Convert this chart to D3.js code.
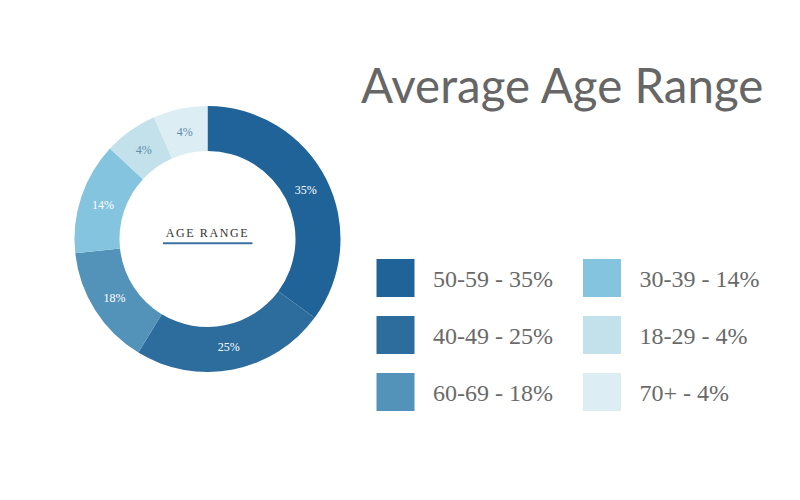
<!DOCTYPE html>
<html>
<head>
<meta charset="utf-8">
<script src="https://cdn.jsdelivr.net/npm/d3@7"></script>
<style>
  html, body { margin: 0; padding: 0; background: #ffffff; }
  svg { display: block; }
</style>
</head>
<body>
<svg id="chart" width="800" height="500"></svg>
<script>
// ---- data ----
const categories = ["50-59", "40-49", "60-69", "30-39", "18-29", "70+"];
const percents   = [35, 25, 18, 14, 4, 4];
// angular share of each slice as it is drawn in the picture
const arcShares  = [35.1, 23.6, 14.6, 13.6, 6.5, 6.6];
const palette    = ["#1f6399", "#2c6d9e", "#5393b9", "#85c4de", "#c3e1ea", "#dcedf3"];
const titleText  = "Average Age Range";
const centerText = "AGE RANGE";

const data = categories.map((c, i) => ({ cat: c, pct: percents[i], share: arcShares[i] }));

const svg = d3.select("#chart");
const W = 800, H = 500;
svg.append("rect").attr("width", W).attr("height", H).attr("fill", "#ffffff");

const color = d3.scaleOrdinal().domain(categories).range(palette);

// ---- donut ----
const cx = 207.5, cy = 239, R = 133, r = 88;
const pie = d3.pie().sort(null).value(d => d.share).startAngle(0).endAngle(2 * Math.PI);
const arc = d3.arc().innerRadius(r).outerRadius(R);
const labelArc = d3.arc().innerRadius(110).outerRadius(110);

const g = svg.append("g").attr("transform", `translate(${cx},${cy})`);
const arcs = pie(data);

g.selectAll("path.slice")
  .data(arcs)
  .join("path")
  .attr("class", "slice")
  .attr("d", arc)
  .attr("fill", d => color(d.data.cat));

g.selectAll("text.plabel")
  .data(arcs)
  .join("text")
  .attr("class", "plabel")
  .attr("transform", d => `translate(${labelArc.centroid(d)})`)
  .attr("text-anchor", "middle")
  .attr("dy", "0.35em")
  .attr("font-family", "'Liberation Serif', 'DejaVu Serif', serif")
  .attr("font-size", 12)
  .attr("fill", d => d3.hsl(color(d.data.cat)).l > 0.75 ? "#5f8fae" : "#ffffff")
  .text(d => d.data.pct + "%");

// center label
g.append("text")
  .attr("x", 0).attr("y", -2.5)
  .attr("text-anchor", "middle")
  .attr("font-family", "'Liberation Serif', 'DejaVu Serif', serif")
  .attr("font-size", 12)
  .attr("letter-spacing", 1.6)
  .attr("fill", "#333333")
  .text(centerText);
g.append("line")
  .attr("x1", -44.5).attr("x2", 45)
  .attr("y1", 4.3).attr("y2", 4.3)
  .attr("stroke", "#3b72a3")
  .attr("stroke-width", 2);

// ---- title ----
svg.append("text")
  .attr("x", 361).attr("y", 103)
  .attr("font-family", "Lato, 'Open Sans', sans-serif")
  .attr("font-size", 47.5)
  .attr("fill", "#666666")
  .text(titleText);

// ---- legend ----
const rows = 3;
const colX = d3.scaleOrdinal().domain([0, 1]).range([376.5, 583]);
const rowY = d3.scaleLinear().domain([0, 1]).range([259, 316]);

const legend = svg.append("g").attr("class", "legend");
const items = legend.selectAll("g.item")
  .data(data)
  .join("g")
  .attr("class", "item")
  .attr("transform", (d, i) => `translate(${colX(Math.floor(i / rows))},${rowY(i % rows)})`);

items.append("rect")
  .attr("width", 38).attr("height", 38)
  .attr("fill", d => color(d.cat));

items.append("text")
  .attr("x", 56.5).attr("y", 27.5)
  .attr("font-family", "'Liberation Serif', 'DejaVu Serif', serif")
  .attr("font-size", 24)
  .attr("fill", "#6a6a6a")
  .text(d => `${d.cat} - ${d.pct}%`);
</script>
</body>
</html>
